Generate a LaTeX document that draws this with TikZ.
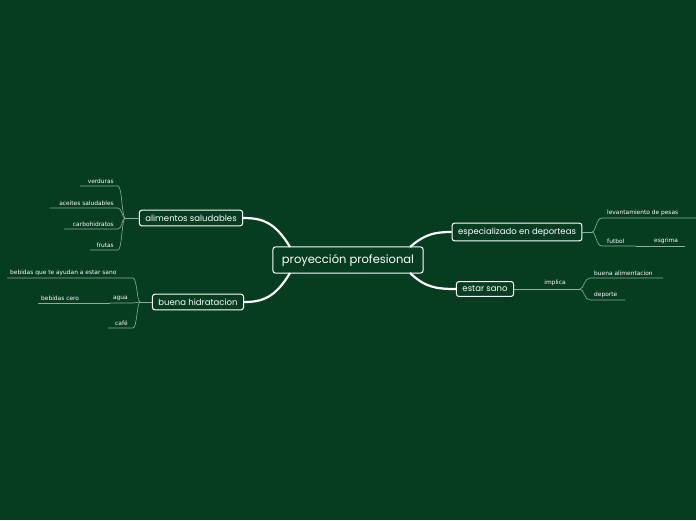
\documentclass[tikz,border=0pt]{standalone}
\usepackage{fontspec}
\setmainfont{DejaVu Sans}
\newfontfamily\hand{Poppins}
\definecolor{bg}{HTML}{063D20}
\definecolor{ln}{HTML}{8DB096}
\begin{document}
\begin{tikzpicture}[x=1pt,y=-1pt,
  topic/.style={draw=white,fill=bg,rounded corners=2.5pt,line width=1pt,text=white,font=\hand\fontsize{8.5}{9}\selectfont,inner xsep=6pt,inner ysep=4.5pt},
  central/.style={topic,font=\hand\fontsize{11.5}{12}\selectfont,inner xsep=9pt,inner ysep=7pt},
  main/.style={white,line width=2.2pt},
  leafl/.style={ln,line width=0.6pt},
  lbl/.style={text=white,font=\fontsize{5.9}{6.5}\selectfont,inner sep=1pt}]
\fill[bg] (0,0) rectangle (696,520);
\useasboundingbox (0,0) rectangle (696,520);
\node[central] (c) at (348,260) {proyección profesional};
\node[topic] (a) at (191,218) {alimentos saludables};
\node[topic] (h) at (198,302) {buena hidratacion};
\node[topic] (e) at (517,232) {especializado en deporteas};
\node[topic] (s) at (485,289) {estar sano};
\draw[main] (290,247) .. controls (275,222) and (262,218) .. (a.east);
\draw[main] (290,273) .. controls (275,298) and (262,302) .. (h.east);
\draw[main] (410,247) .. controls (425,234) and (435,232) .. (e.west);
\draw[main] (410,273) .. controls (425,287) and (435,289) .. (s.west);
% alimentos leaves
\coordinate (ab) at (125,218);
\draw[leafl] (a.west) -- (ab);
\foreach \t/\y/\x in {verduras/186/80, aceites saludables/208/50, carbohidratos/229/64, frutas/250/90}{
  \draw[leafl] (ab) .. controls (122,218) and (122,\y) .. (118,\y) -- (\x,\y);
  \node[lbl,anchor=south east] at (115,\y-1) {\t};}
% hidratacion leaves
\coordinate (hb) at (140,302);
\draw[leafl] (h.west) -- (hb);
\foreach \y/\x in {278/7, 303/110, 328/108}{
  \draw[leafl] (hb) .. controls (137,302) and (137,\y) .. (133,\y) -- (\x,\y);}
\node[lbl,anchor=south west] at (9,277) {bebidas que te ayudan a estar sano};
\node[lbl,anchor=south east] at (129,302) {agua};
\node[lbl,anchor=south east] at (129,327) {café};
\draw[leafl] (110,303) -- (38,303);
\node[lbl,anchor=south west] at (40,302) {bebidas cero};
% especializado leaves
\coordinate (eb) at (592,232);
\draw[leafl] (e.east) -- (eb);
\foreach \y/\x in {218/696, 246/636}{
  \draw[leafl] (eb) .. controls (596,232) and (596,\y) .. (602,\y) -- (\x,\y);}
\node[lbl,anchor=south west] at (606,217) {levantamiento de pesas};
\node[lbl,anchor=south west] at (606,245) {futbol};
\draw[leafl] (636,246) -- (685,246);
\node[lbl,anchor=south west] at (653,245) {esgrima};
% estar sano
\coordinate (sb) at (580,289);
\draw[leafl] (s.east) -- (sb);
\node[lbl,anchor=south] at (555,287) {implica};
\foreach \y/\x in {278/663, 300/625}{
  \draw[leafl] (sb) .. controls (584,289) and (584,\y) .. (590,\y) -- (\x,\y);}
\node[lbl,anchor=south west] at (593,277) {buena alimentacion};
\node[lbl,anchor=south west] at (593,299) {deporte};
\end{tikzpicture}
\end{document}
